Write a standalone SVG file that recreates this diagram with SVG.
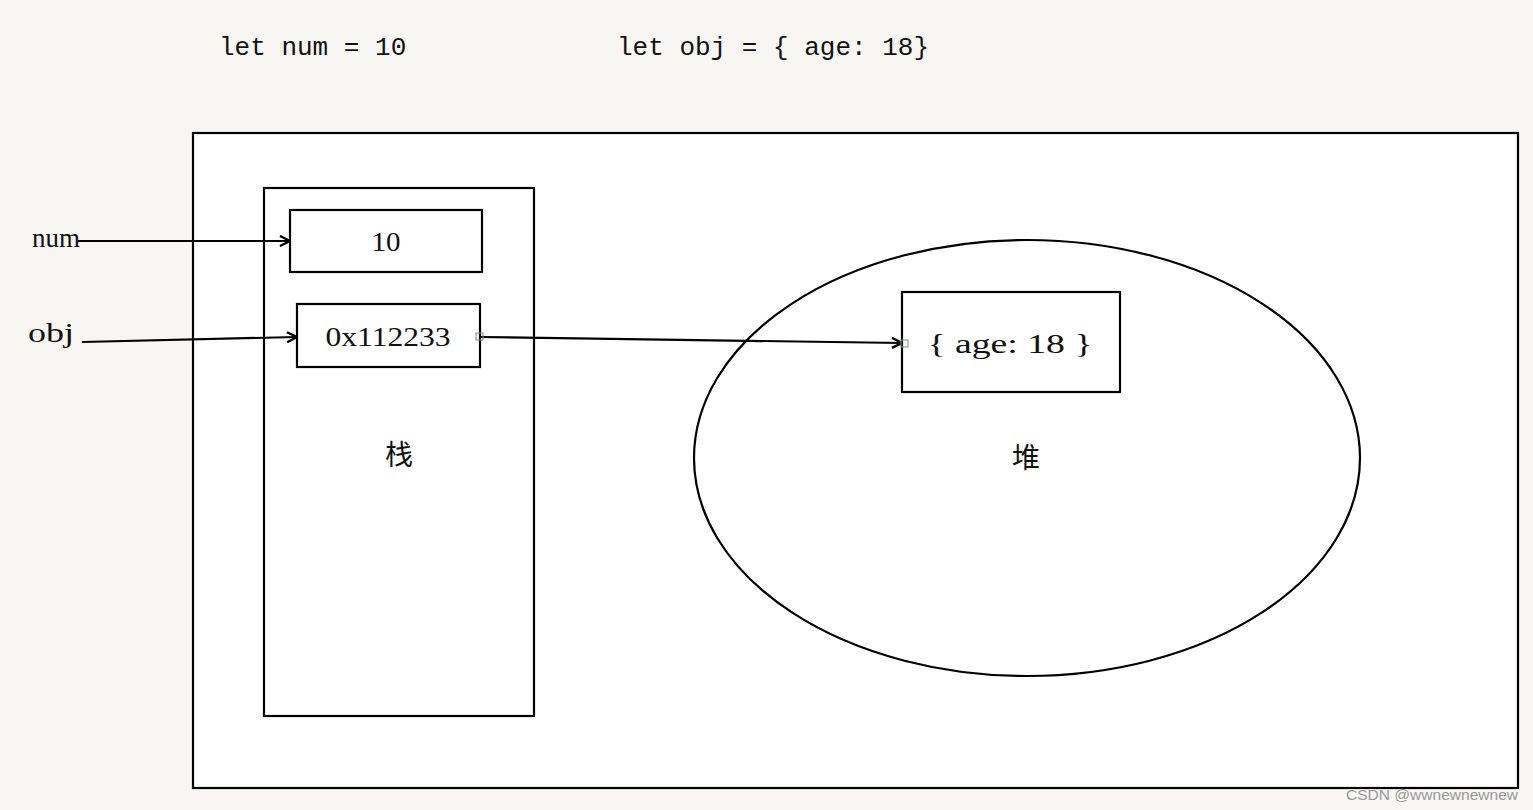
<svg xmlns="http://www.w3.org/2000/svg" width="1533" height="810" viewBox="0 0 1533 810">
<style>
.box{fill:#fff;stroke:#000;stroke-width:2.2}
.shape{fill:none;stroke:#000;stroke-width:2.2}
.code{font-family:"Liberation Mono",monospace;font-size:26px;fill:#111}
.lbl{font-family:"Liberation Serif",serif;font-size:27px;fill:#111}
.cjk{font-family:"Liberation Serif","Noto Sans CJK SC",serif;font-size:28px;fill:#111}
.conn{fill:none;stroke:#000;stroke-width:2.2}
</style>
<defs>
<marker id="arr" viewBox="0 0 12 12" refX="11" refY="6" markerWidth="12" markerHeight="12" markerUnits="userSpaceOnUse" orient="auto">
<path d="M1,1 L11,6 L1,11" fill="none" stroke="#000" stroke-width="2.4"/>
</marker>
</defs>
<rect x="0" y="0" width="1533" height="810" fill="#f8f6f3"/>
<text class="code" x="219" y="55">let num = 10</text>
<text class="code" x="617" y="55">let obj = { age: 18}</text>
<g id="frame"><rect class="box" x="193" y="133" width="1325" height="655" stroke-width="2.5"/></g>
<g id="stack">
<rect class="box" x="264" y="188" width="270" height="528"/>
<text class="cjk" x="399" y="465" text-anchor="middle">栈</text>
</g>
<g id="heap">
<ellipse class="shape" cx="1027" cy="458" rx="333" ry="218"/>
<text class="cjk" x="1026" y="468" text-anchor="middle">堆</text>
</g>
<g id="box-num">
<rect class="box" x="290" y="210" width="192" height="62"/>
<text class="lbl" x="386" y="251" text-anchor="middle" textLength="29" lengthAdjust="spacingAndGlyphs">10</text>
</g>
<g id="box-obj">
<rect class="box" x="297" y="304" width="183" height="63"/>
<text class="lbl" x="388" y="346" text-anchor="middle" textLength="125" lengthAdjust="spacingAndGlyphs">0x112233</text>
</g>
<g id="box-age">
<rect class="box" x="902" y="292" width="218" height="100"/>
<text class="lbl" x="1010" y="353" text-anchor="middle" textLength="165" lengthAdjust="spacingAndGlyphs">{ age: 18 }</text>
</g>
<g id="label-num"><text class="lbl" x="32" y="247" font-size="24">num</text></g>
<g id="label-obj"><text class="lbl" x="28" y="342" font-size="24" textLength="46" lengthAdjust="spacingAndGlyphs">obj</text></g>
<g id="connectors">
<line class="conn" x1="78" y1="241" x2="290" y2="241" marker-end="url(#arr)"/>
<polyline class="conn" points="82,342 297,337" marker-end="url(#arr)"/>
<polyline class="conn" points="480,337 902,343" marker-end="url(#arr)"/>
<rect x="476" y="333" width="7" height="7" fill="none" stroke="#888" stroke-width="1"/>
<rect x="901" y="340" width="7" height="7" fill="none" stroke="#6a6" stroke-width="1"/>
</g>
<text x="1346" y="800" font-family="Liberation Sans,Arial,sans-serif" font-size="15.5" fill="#999" textLength="172" lengthAdjust="spacingAndGlyphs">CSDN @wwnewnewnew</text>
</svg>
